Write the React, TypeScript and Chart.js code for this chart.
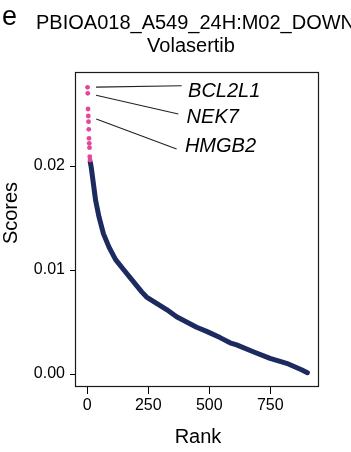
import React, { useEffect, useRef } from "react";
import { Chart, registerables } from "chart.js";

Chart.register(...registerables);

// ---- data ----
const highlightRanks = [1, 2, 3, 4, 5, 6, 7, 8, 9, 10, 11];
const highlightScores = [
  0.02757, 0.02699, 0.02548, 0.02481, 0.02426, 0.02353, 0.02266, 0.02218, 0.02176, 0.02089, 0.02058,
];

const curveRanks = [
  12, 16, 25, 34, 48, 66, 89, 116, 150, 178, 223, 243, 284, 325, 366, 407, 448, 489, 544, 585, 612, 680,
  749, 817, 880, 902,
];
const curveScores = [
  0.0204, 0.0199, 0.0183, 0.0167, 0.0151, 0.0135, 0.0122, 0.011, 0.01, 0.0092, 0.0079, 0.0074, 0.0068,
  0.0062, 0.0055, 0.005, 0.0045, 0.0041, 0.0035, 0.003, 0.0028, 0.00214, 0.00151, 0.00103, 0.00038,
  0.00013,
];

const xTickValues = [0, 250, 500, 750];
const yTickValues = [0, 0.01, 0.02];

const geneLabels = ["BCL2L1", "NEK7", "HMGB2"];
const geneRanks = [1, 2, 4];
const geneScores = [0.02757, 0.02699, 0.02481];
const labelLineEndRanks = [387, 373, 366];
const labelLineEndScores = [0.02772, 0.025, 0.02163];
const labelTextRanks = [413, 407, 400];
const labelTextScores = [0.02668, 0.02411, 0.02138];

const panelLetter = "e";
const titleMain = "PBIOA018_A549_24H:M02_DOWN";
const titleSub = "Volasertib";
const xAxisTitle = "Rank";
const yAxisTitle = "Scores";

const FONT = "'Liberation Sans', Arial, sans-serif";
const NAVY = "#1d2a5f";
const PINK = "#e2479b";

const decorPlugin = {
  id: "decor",
  afterDatasetsDraw(chart: any) {
    const { ctx, chartArea, scales } = chart;
    const xs = scales.x;
    const ys = scales.y;
    ctx.save();
    // box
    ctx.strokeStyle = "#1a1a1a";
    ctx.lineWidth = 1.2;
    ctx.strokeRect(
      Math.round(chartArea.left) - 0.5,
      Math.round(chartArea.top) + 0.5,
      Math.round(chartArea.right - chartArea.left) + 1,
      Math.round(chartArea.bottom - chartArea.top) - 1
    );

    // gene label segments + text
    ctx.strokeStyle = "#222";
    ctx.lineWidth = 1.1;
    ctx.fillStyle = "#000";
    ctx.font = `italic 20px ${FONT}`;
    ctx.textAlign = "left";
    ctx.textBaseline = "alphabetic";
    for (let i = 0; i < geneLabels.length; i++) {
      const px = xs.getPixelForValue(geneRanks[i]);
      const py = ys.getPixelForValue(geneScores[i]);
      const ex = xs.getPixelForValue(labelLineEndRanks[i]);
      const ey = ys.getPixelForValue(labelLineEndScores[i]);
      const dx = ex - px;
      const dy = ey - py;
      const d = Math.sqrt(dx * dx + dy * dy);
      const sx = px + (dx / d) * 8.5;
      const sy = py + (dy / d) * 8.5;
      ctx.beginPath();
      ctx.moveTo(sx, sy);
      ctx.lineTo(ex, ey);
      ctx.stroke();
      ctx.fillText(
        geneLabels[i],
        xs.getPixelForValue(labelTextRanks[i]),
        ys.getPixelForValue(labelTextScores[i])
      );
    }

    // titles
    ctx.font = `27px ${FONT}`;
    ctx.fillText(panelLetter, 2, 25);
    ctx.font = `20px ${FONT}`;
    ctx.fillText(titleMain, 36, 29);
    ctx.textAlign = "center";
    ctx.fillText(titleSub, 191, 52);

    // axis titles
    ctx.fillText(xAxisTitle, 198, 443);
    ctx.save();
    ctx.translate(17, 213);
    ctx.rotate(-Math.PI / 2);
    ctx.fillText(yAxisTitle, 0, 0);
    ctx.restore();

    ctx.restore();
  },
};

export default function App() {
  const canvasRef = useRef<HTMLCanvasElement | null>(null);

  useEffect(() => {
    const canvas = canvasRef.current;
    if (!canvas) return;
    const chart = new Chart(canvas, {
      type: "scatter",
      data: {
        datasets: [
          {
            label: "highlight",
            data: highlightRanks.map((r, i) => ({ x: r, y: highlightScores[i] })),
            pointRadius: 2.4,
            pointBackgroundColor: PINK,
            pointBorderWidth: 0,
            showLine: false,
            order: 0,
          },
          {
            label: "scores",
            data: curveRanks.map((r, i) => ({ x: r, y: curveScores[i] })),
            showLine: true,
            borderColor: NAVY,
            borderWidth: 5,
            borderCapStyle: "round",
            borderJoinStyle: "round",
            pointRadius: 0,
            tension: 0,
            order: 1,
          },
        ],
      },
      options: {
        responsive: false,
        animation: false,
        devicePixelRatio: 1,
        layout: { padding: { top: 72, right: 33, left: 0, bottom: 0 } },
        plugins: { legend: { display: false }, tooltip: { enabled: false }, title: { display: false } },
        scales: {
          x: {
            type: "linear",
            min: -46.3,
            max: 945.5,
            afterBuildTicks: (s: any) => {
              s.ticks = xTickValues.map((v) => ({ value: v }));
            },
            afterFit: (s: any) => {
              s.height = 65;
            },
            ticks: {
              color: "#000",
              font: { family: FONT, size: 16 },
              padding: 2,
              maxRotation: 0,
              autoSkip: false,
              callback: (v: any) => String(v),
            },
            grid: {
              display: true,
              drawOnChartArea: false,
              drawTicks: true,
              tickLength: 7,
              color: "#000",
              lineWidth: 1,
            },
            border: { display: false },
          },
          y: {
            type: "linear",
            min: -0.00125,
            max: 0.02904,
            afterBuildTicks: (s: any) => {
              s.ticks = yTickValues.map((v) => ({ value: v }));
            },
            afterFit: (s: any) => {
              s.width = 76;
            },
            ticks: {
              color: "#000",
              font: { family: FONT, size: 16 },
              padding: 5,
              autoSkip: false,
              callback: (v: any) => Number(v).toFixed(2),
            },
            grid: {
              display: true,
              drawOnChartArea: false,
              drawTicks: true,
              tickLength: 6,
              color: "#000",
              lineWidth: 1,
            },
            border: { display: false },
          },
        },
      },
      plugins: [decorPlugin],
    } as any);
    return () => chart.destroy();
  }, []);

  return (
    <div style={{ position: "absolute", left: 0, top: 0, width: 351, height: 452, background: "#fff" }}>
      <canvas ref={canvasRef} width={351} height={452} style={{ display: "block" }} />
    </div>
  );
}
